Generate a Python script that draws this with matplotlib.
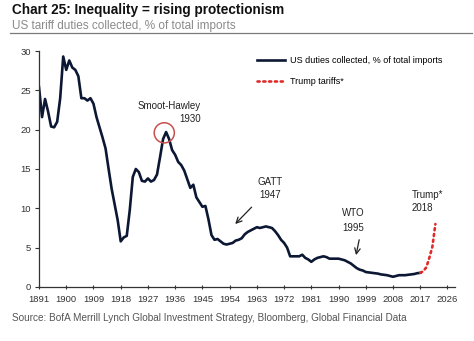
import matplotlib
matplotlib.use("Agg")
import matplotlib.pyplot as plt
from matplotlib import font_manager

# pick a narrow sans if one is around, else plain Liberation Sans
names = {f.name for f in font_manager.fontManager.ttflist}
narrow = "Liberation Sans Narrow" if "Liberation Sans Narrow" in names else "Liberation Sans"
plt.rcParams['font.family'] = [narrow, 'DejaVu Sans']

# US duties collected, % of total imports
years = list(range(1891, 2018))
duties = [25.4, 21.6, 23.9, 22.3, 20.4, 20.3, 21.0, 24.0, 29.3, 27.6,
          28.8, 27.9, 27.6, 26.8, 24.0, 24.0, 23.7, 24.0, 23.3, 21.6,
          20.3, 19.0, 17.6, 15.0, 12.5, 10.5, 8.5, 5.8, 6.3, 6.5,
          9.8, 14.0, 15.0, 14.6, 13.5, 13.4, 13.8, 13.4, 13.6, 14.3,
          16.5, 18.8, 19.7, 18.8, 17.4, 16.8, 15.9, 15.5, 14.8, 13.7,
          12.6, 13.0, 11.4, 10.8, 10.2, 10.3, 8.6, 6.6, 6.0, 6.1,
          5.8, 5.5, 5.4, 5.5, 5.6, 5.9, 6.0, 6.2, 6.7, 7.0,
          7.2, 7.4, 7.6, 7.5, 7.6, 7.7, 7.6, 7.5, 7.1, 6.6,
          6.0, 5.6, 5.0, 3.9, 3.9, 3.9, 3.9, 4.1, 3.7, 3.5,
          3.2, 3.5, 3.7, 3.8, 3.9, 3.8, 3.6, 3.6, 3.6, 3.6,
          3.5, 3.4, 3.2, 3.0, 2.7, 2.4, 2.2, 2.1, 1.9, 1.85,
          1.8, 1.75, 1.7, 1.6, 1.55, 1.5, 1.4, 1.3, 1.4, 1.5,
          1.5, 1.5, 1.55, 1.6, 1.65, 1.75, 1.8]

# projected path with the new tariffs
trump_years = [2017, 2018, 2019, 2020, 2021, 2022]
trump_vals = [1.8, 2.0, 2.5, 3.7, 5.1, 8.0]

xticks = [1891, 1900, 1909, 1918, 1927, 1936, 1945, 1954, 1963, 1972,
          1981, 1990, 1999, 2008, 2017, 2026]
yticks = [0, 5, 10, 15, 20, 25, 30]

fig = plt.figure(figsize=(4.74, 3.41), dpi=100)
ax = fig.add_axes([0.0823, 0.1584, 0.8777, 0.692])

ax.plot(years, duties, color='#0b1733', lw=1.9, solid_joinstyle='round',
        label='US duties collected, % of total imports')
ax.plot(trump_years, trump_vals, color='#e02a2a', lw=1.9, ls=(0, (0.8, 1.4)),
        dash_capstyle='round', label='Trump tariffs*')

ax.set_xlim(1891, 2028.5)
ax.set_ylim(0, 30)
ax.set_xticks(xticks)
ax.set_yticks(yticks)
for s in ['top', 'right']:
    ax.spines[s].set_visible(False)
for s in ['left', 'bottom']:
    ax.spines[s].set_color('#333333')
    ax.spines[s].set_linewidth(0.9)
ax.tick_params(axis='x', direction='inout', length=3, width=0.8, colors='#333333',
               labelsize=6.8, pad=4)
ax.tick_params(axis='y', direction='out', length=3, width=0.8, colors='#333333',
               labelsize=6.8, pad=3)

leg = ax.legend(loc='upper left', bbox_to_anchor=(0.51, 1.0), frameon=False,
                fontsize=6.5, handlelength=3.2, handletextpad=0.5,
                labelspacing=1.3, borderaxespad=0.2)

# Smoot-Hawley
ax.scatter([1932.4], [19.6], s=210, facecolors='none', edgecolors='#c8504e',
           linewidths=1.1, zorder=3)
ax.text(1944.6, 23.0, 'Smoot-Hawley', ha='right', va='center', fontsize=7, color='#222222')
ax.text(1944.6, 21.35, '1930', ha='right', va='center', fontsize=7, color='#222222')

# GATT
ax.text(1967.5, 13.3, 'GATT', ha='center', va='center', fontsize=7, color='#222222')
ax.text(1967.5, 11.7, '1947', ha='center', va='center', fontsize=7, color='#222222')
ax.annotate('', xy=(1955.2, 7.75), xytext=(1961.9, 10.4),
            arrowprops=dict(arrowstyle='->', color='#222222', lw=0.9))

# WTO
ax.text(1995.0, 9.4, 'WTO', ha='center', va='center', fontsize=7, color='#222222')
ax.text(1995.0, 7.5, '1995', ha='center', va='center', fontsize=7, color='#222222')
ax.annotate('', xy=(1995.6, 3.7), xytext=(1997.0, 6.35),
            arrowprops=dict(arrowstyle='->', color='#222222', lw=0.9))

# Trump
ax.text(2014.2, 11.7, 'Trump*', ha='left', va='center', fontsize=7, color='#222222')
ax.text(2014.2, 10.0, '2018', ha='left', va='center', fontsize=7, color='#222222')

# header and footer
fig.text(12 / 474, 1 - 10 / 341, 'Chart 25: Inequality = rising protectionism',
         ha='left', va='center', fontsize=9.8, fontweight='bold', color='#111111')
fig.text(12 / 474, 1 - 26 / 341, 'US tariff duties collected, % of total imports',
         ha='left', va='center', fontsize=8.5, color='#8a8a8a')
fig.add_artist(plt.Line2D([10 / 474, 472 / 474], [1 - 33 / 341, 1 - 33 / 341],
                          color='#7a7a7a', lw=0.9))
fig.text(12 / 474, 1 - 318 / 341,
         'Source: BofA Merrill Lynch Global Investment Strategy, Bloomberg, Global Financial Data',
         ha='left', va='center', fontsize=7.2, color='#555555')

fig.savefig('out.png', dpi=100)
